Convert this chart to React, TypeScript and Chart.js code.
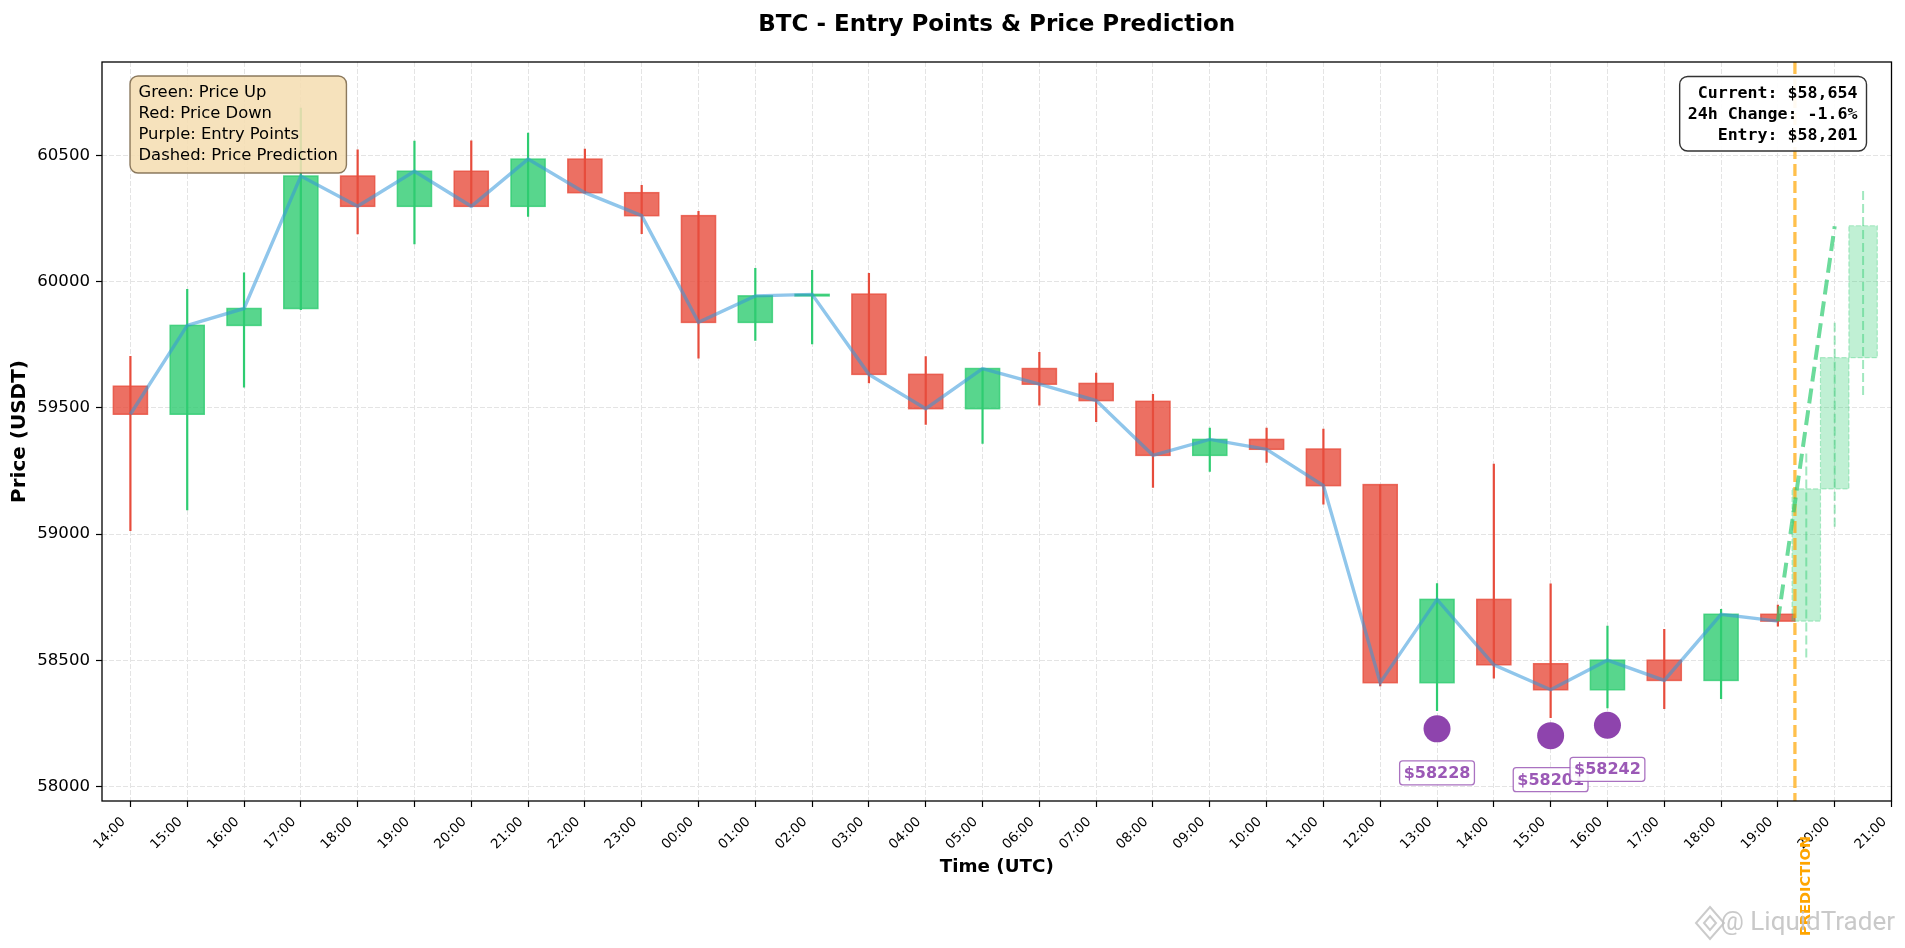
import React, { useEffect, useRef } from 'react';
import { Chart, registerables } from 'chart.js';

Chart.register(...registerables);

// ---------- data ----------
const TIME_LABELS = [
  '14:00', '15:00', '16:00', '17:00', '18:00', '19:00', '20:00', '21:00', '22:00', '23:00',
  '00:00', '01:00', '02:00', '03:00', '04:00', '05:00', '06:00', '07:00', '08:00', '09:00',
  '10:00', '11:00', '12:00', '13:00', '14:00', '15:00', '16:00', '17:00', '18:00', '19:00',
  '20:00', '21:00',
];

const OPENS = [
  59586, 59475, 59827, 59894, 60419, 60299, 60438, 60299, 60486, 60353,
  60262, 59839, 59944, 59951, 59633, 59497, 59656, 59597, 59526, 59312,
  59375, 59337, 59196, 58411, 58741, 58486, 58383, 58500, 58420, 58682,
];
const CLOSES = [
  59475, 59827, 59894, 60419, 60299, 60438, 60299, 60486, 60353, 60262,
  59839, 59944, 59950, 59633, 59497, 59656, 59594, 59529, 59312, 59375,
  59336, 59192, 58411, 58741, 58482, 58383, 58500, 58420, 58682, 58655,
];
const HIGHS = [
  59706, 59971, 60037, 60690, 60524, 60559, 60560, 60591, 60527, 60383,
  60280, 60055, 60047, 60035, 59705, 59656, 59722, 59639, 59555, 59421,
  59421, 59417, 59196, 58805, 59279, 58804, 58637, 58624, 58703, 58720,
];
const LOWS = [
  59012, 59094, 59581, 59888, 60188, 60149, 60296, 60258, 60350, 60189,
  59696, 59766, 59752, 59598, 59433, 59358, 59510, 59444, 59184, 59247,
  59283, 59117, 58397, 58299, 58428, 58271, 58310, 58307, 58346, 58634,
];

const PRED_X = [29.5, 30, 30.5];
const PRED_OPEN = [58655, 59179, 59699];
const PRED_CLOSE = [59179, 59699, 60222];
const PRED_HIGH = [59319, 59838, 60360];
const PRED_LOW = [58499, 59018, 59540];

const PRED_LINE_X = [29, 30];
const PRED_LINE_Y = [58655, 60220];

const PREDICTION_MARK_X = 29.3;

const ENTRY_X = [23, 25, 26];
const ENTRY_Y = [58228, 58201, 58242];
const ENTRY_TEXT = ['$58228', '$58201', '$58242'];

const Y_TICKS = [58000, 58500, 59000, 59500, 60000, 60500];
const Y_MIN = 57942;
const Y_MAX = 60871;

const TITLE = 'BTC - Entry Points & Price Prediction';
const LEGEND_LINES = ['Green: Price Up', 'Red: Price Down', 'Purple: Entry Points', 'Dashed: Price Prediction'];
const INFO_LINES = ['Current: $58,654', '24h Change: -1.6%', 'Entry: $58,201'];

// ---------- style ----------
const GREEN = [46, 204, 113];
const RED = [231, 76, 60];
const rgba = (c: number[], a: number) => `rgba(${c[0]},${c[1]},${c[2]},${a})`;
const BODY_WIDTH = 0.6;
const PRED_WIDTH = 0.5;
const FONT = "'DejaVu Sans', sans-serif";

function roundRect(ctx: CanvasRenderingContext2D, x: number, y: number, w: number, h: number, r: number) {
  ctx.beginPath();
  ctx.moveTo(x + r, y);
  ctx.lineTo(x + w - r, y);
  ctx.arcTo(x + w, y, x + w, y + r, r);
  ctx.lineTo(x + w, y + h - r);
  ctx.arcTo(x + w, y + h, x + w - r, y + h, r);
  ctx.lineTo(x + r, y + h);
  ctx.arcTo(x, y + h, x, y + h - r, r);
  ctx.lineTo(x, y + r);
  ctx.arcTo(x, y, x + r, y, r);
  ctx.closePath();
}

const candlePlugin = {
  id: 'candles',
  beforeDatasetsDraw(chart: any) {
    const { ctx, chartArea: ca, scales } = chart;
    const xs = scales.x;
    const ys = scales.y;
    ctx.save();
    ctx.beginPath();
    ctx.rect(ca.left, ca.top, ca.right - ca.left, ca.bottom - ca.top);
    ctx.clip();

    for (let i = 0; i < OPENS.length; i++) {
      const up = CLOSES[i] >= OPENS[i];
      const c = up ? GREEN : RED;
      const xl = xs.getPixelForValue(i - BODY_WIDTH / 2);
      const xr = xs.getPixelForValue(i + BODY_WIDTH / 2);
      const xc = xs.getPixelForValue(i);
      const yTop = ys.getPixelForValue(Math.max(OPENS[i], CLOSES[i]));
      const yBot = ys.getPixelForValue(Math.min(OPENS[i], CLOSES[i]));
      const h = Math.max(yBot - yTop, 1);
      ctx.setLineDash([]);
      ctx.fillStyle = rgba(c, 0.8);
      ctx.fillRect(xl, yTop, xr - xl, h);
      ctx.strokeStyle = rgba(c, 0.8);
      ctx.lineWidth = 1.5;
      ctx.strokeRect(xl, yTop, xr - xl, h);
      ctx.strokeStyle = rgba(c, 1);
      ctx.lineWidth = 2.2;
      ctx.beginPath();
      ctx.moveTo(xc, ys.getPixelForValue(HIGHS[i]));
      ctx.lineTo(xc, ys.getPixelForValue(LOWS[i]));
      ctx.stroke();
    }

    for (let i = 0; i < PRED_X.length; i++) {
      const xl = xs.getPixelForValue(PRED_X[i] - PRED_WIDTH / 2);
      const xr = xs.getPixelForValue(PRED_X[i] + PRED_WIDTH / 2);
      const xc = xs.getPixelForValue(PRED_X[i]);
      const yTop = ys.getPixelForValue(Math.max(PRED_OPEN[i], PRED_CLOSE[i]));
      const yBot = ys.getPixelForValue(Math.min(PRED_OPEN[i], PRED_CLOSE[i]));
      ctx.fillStyle = rgba(GREEN, 0.3);
      ctx.fillRect(xl, yTop, xr - xl, yBot - yTop);
      ctx.setLineDash([5, 2]);
      ctx.strokeStyle = rgba(GREEN, 0.35);
      ctx.lineWidth = 1.2;
      ctx.strokeRect(xl, yTop, xr - xl, yBot - yTop);
      ctx.setLineDash([9, 4]);
      ctx.strokeStyle = rgba(GREEN, 0.45);
      ctx.lineWidth = 2;
      ctx.beginPath();
      ctx.moveTo(xc, ys.getPixelForValue(PRED_HIGH[i]));
      ctx.lineTo(xc, ys.getPixelForValue(PRED_LOW[i]));
      ctx.stroke();
    }

    // prediction marker line
    const px = xs.getPixelForValue(PREDICTION_MARK_X);
    ctx.setLineDash([12, 5]);
    ctx.strokeStyle = 'rgba(255,165,0,0.7)';
    ctx.lineWidth = 3.3;
    ctx.beginPath();
    ctx.moveTo(px, ca.top);
    ctx.lineTo(px, ca.bottom);
    ctx.stroke();
    ctx.restore();
  },
};

const overlayPlugin = {
  id: 'overlay',
  afterDraw(chart: any) {
    const { ctx, chartArea: ca, scales } = chart;
    const xs = scales.x;
    const ys = scales.y;
    ctx.save();
    ctx.setLineDash([]);

    // frame
    ctx.strokeStyle = '#000';
    ctx.lineWidth = 1.3;
    ctx.strokeRect(ca.left, ca.top, ca.right - ca.left, ca.bottom - ca.top);

    // title
    ctx.fillStyle = '#000';
    ctx.font = `bold 23px ${FONT}`;
    ctx.textAlign = 'center';
    ctx.textBaseline = 'alphabetic';
    ctx.fillText(TITLE, (ca.left + ca.right) / 2, ca.top - 31.3);

    // entry labels
    ctx.font = `bold 16px ${FONT}`;
    for (let i = 0; i < ENTRY_X.length; i++) {
      const cx = xs.getPixelForValue(ENTRY_X[i]);
      const cy = ys.getPixelForValue(ENTRY_Y[i]) + 44;
      const w = ctx.measureText(ENTRY_TEXT[i]).width + 8;
      const h = 24;
      roundRect(ctx, cx - w / 2, cy - h / 2, w, h, 3);
      ctx.fillStyle = 'rgba(255,255,255,0.92)';
      ctx.fill();
      ctx.strokeStyle = 'rgba(155,89,182,0.85)';
      ctx.lineWidth = 1.3;
      ctx.stroke();
      ctx.fillStyle = '#9b59b6';
      ctx.textAlign = 'center';
      ctx.textBaseline = 'middle';
      ctx.fillText(ENTRY_TEXT[i], cx, cy + 1);
    }

    // legend box (top-left)
    ctx.font = `16.4px ${FONT}`;
    let maxW = 0;
    LEGEND_LINES.forEach((t) => { maxW = Math.max(maxW, ctx.measureText(t).width); });
    const lx = ca.left + 28;
    const ly = ca.top + 14;
    roundRect(ctx, lx, ly, maxW + 17, 97, 8);
    ctx.fillStyle = 'rgba(245,222,179,0.88)';
    ctx.fill();
    ctx.strokeStyle = 'rgba(120,100,70,0.85)';
    ctx.lineWidth = 1.4;
    ctx.stroke();
    ctx.fillStyle = '#000';
    ctx.textAlign = 'left';
    ctx.textBaseline = 'middle';
    LEGEND_LINES.forEach((t, i) => ctx.fillText(t, lx + 8.5, ly + 17 + i * 21));

    // info box (top-right)
    ctx.font = `bold 16.6px 'DejaVu Sans Mono', monospace`;
    let maxI = 0;
    INFO_LINES.forEach((t) => { maxI = Math.max(maxI, ctx.measureText(t).width); });
    const bw = maxI + 17;
    const bx = ca.right - 25 - bw;
    const by = ca.top + 14.5;
    roundRect(ctx, bx, by, bw, 74.5, 8);
    ctx.fillStyle = 'rgba(255,255,255,0.92)';
    ctx.fill();
    ctx.strokeStyle = '#333';
    ctx.lineWidth = 1.4;
    ctx.stroke();
    ctx.fillStyle = '#000';
    ctx.textAlign = 'right';
    INFO_LINES.forEach((t, i) => ctx.fillText(t, bx + bw - 9, by + 17 + i * 21));

    // PREDICTION vertical text
    const px = xs.getPixelForValue(PREDICTION_MARK_X);
    ctx.save();
    ctx.translate(px + 15, ca.bottom + 135);
    ctx.rotate(-Math.PI / 2);
    ctx.font = `bold 14.6px ${FONT}`;
    ctx.fillStyle = '#FFA500';
    ctx.textAlign = 'left';
    ctx.textBaseline = 'alphabetic';
    ctx.fillText('PREDICTION', 0, 0);
    ctx.restore();

    // watermark
    const W = chart.width;
    const H = chart.height;
    const wx = W - 195;
    const wy = H - 25;
    ctx.strokeStyle = 'rgba(190,190,190,0.8)';
    ctx.lineWidth = 2;
    ctx.beginPath();
    ctx.moveTo(wx, wy - 16); ctx.lineTo(wx + 14, wy); ctx.lineTo(wx, wy + 16); ctx.lineTo(wx - 14, wy); ctx.closePath();
    ctx.stroke();
    ctx.beginPath();
    ctx.moveTo(wx, wy - 7); ctx.lineTo(wx + 6, wy); ctx.lineTo(wx, wy + 7); ctx.lineTo(wx - 6, wy); ctx.closePath();
    ctx.stroke();
    ctx.font = `26px Roboto, ${FONT}`;
    ctx.fillStyle = 'rgba(195,195,195,0.9)';
    ctx.textAlign = 'right';
    ctx.textBaseline = 'middle';
    ctx.fillText('@ LiquidTrader', W - 10, wy);

    ctx.restore();
  },
};

export default function App() {
  const ref = useRef<HTMLCanvasElement>(null);
  useEffect(() => {
    document.body.style.margin = '0';
    Chart.defaults.font.family = FONT;
    const gridCommon = {
      color: '#e4e4e4',
      lineWidth: 1,
      drawTicks: true,
      tickLength: 6,
      tickColor: '#000',
      tickWidth: 1.2,
      tickBorderDash: [],
    };
    const chart = new Chart(ref.current as HTMLCanvasElement, {
      type: 'line',
      data: {
        datasets: [
          {
            type: 'line',
            label: 'Close',
            data: CLOSES.map((v, i) => ({ x: i, y: v })),
            borderColor: 'rgba(52,152,219,0.55)',
            borderWidth: 3.4,
            pointRadius: 0,
            tension: 0,
            order: 2,
          },
          {
            type: 'line',
            label: 'Prediction',
            data: PRED_LINE_X.map((x, i) => ({ x, y: PRED_LINE_Y[i] })),
            borderColor: 'rgba(46,204,113,0.7)',
            borderWidth: 4,
            borderDash: [15, 7],
            pointRadius: 0,
            tension: 0,
            order: 1,
          },
          {
            type: 'scatter',
            label: 'Entry Points',
            data: ENTRY_X.map((x, i) => ({ x, y: ENTRY_Y[i] })),
            backgroundColor: '#8e44ad',
            borderWidth: 0,
            pointRadius: 13.5,
            pointHoverRadius: 13.5,
            order: 0,
          },
        ] as any,
      },
      options: {
        responsive: false,
        animation: false,
        devicePixelRatio: 1,
        events: [],
        layout: { padding: { top: 62, right: 13, bottom: 0, left: 0 } },
        plugins: {
          legend: { display: false },
          tooltip: { enabled: false },
          title: { display: false },
        },
        scales: {
          x: {
            type: 'linear',
            min: -0.5,
            max: 31,
            afterBuildTicks: (s: any) => { s.ticks = TIME_LABELS.map((_, i) => ({ value: i })); },
            afterFit: (s: any) => { s.height = 147; s.paddingLeft = 0; s.paddingRight = 0; },
            ticks: {
              autoSkip: false,
              maxRotation: 45,
              minRotation: 45,
              padding: 7,
              labelOffset: -7,
              color: '#000',
              font: { size: 13.4, family: FONT },
              callback: (v: any) => TIME_LABELS[v] ?? '',
            },
            grid: gridCommon,
            border: { display: false, dash: [5, 2] },
            title: {
              display: true,
              text: 'Time (UTC)',
              color: '#000',
              font: { size: 18.3, weight: 'bold', family: FONT },
              padding: { top: 0, bottom: 70 },
            },
          },
          y: {
            type: 'linear',
            min: Y_MIN,
            max: Y_MAX,
            afterBuildTicks: (s: any) => { s.ticks = Y_TICKS.map((v) => ({ value: v })); },
            afterFit: (s: any) => { s.width = 102; },
            ticks: {
              padding: 6,
              color: '#000',
              font: { size: 16.6, family: FONT },
              callback: (v: any) => String(v),
            },
            grid: gridCommon,
            border: { display: false, dash: [5, 2] },
            title: {
              display: true,
              text: 'Price (USDT)',
              color: '#000',
              font: { size: 20, weight: 'bold', family: FONT },
              padding: { top: 7.5, bottom: 0 },
            },
          },
        },
      } as any,
      plugins: [candlePlugin, overlayPlugin],
    });
    return () => chart.destroy();
  }, []);
  return (
    <div style={{ width: 1905, height: 948 }}>
      <canvas ref={ref} width={1905} height={948} style={{ display: 'block' }} />
    </div>
  );
}
